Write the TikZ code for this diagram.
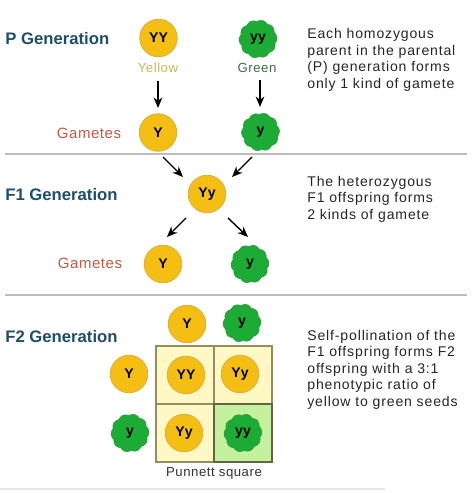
\documentclass[tikz,border=0pt]{standalone}
\usetikzlibrary{arrows.meta}
\usepackage{fontspec}
\setmainfont{Liberation Sans}
\definecolor{gencolor}{HTML}{1F4E6B}
\definecolor{gametecolor}{HTML}{C4593F}
\definecolor{seedyellow}{HTML}{F5BE12}
\definecolor{seedyellowline}{HTML}{DDAF3A}
\definecolor{seedgreen}{HTML}{1CAB35}
\definecolor{seedgreenline}{HTML}{2A9A3A}
\definecolor{cellyellow}{HTML}{FFF8C4}
\definecolor{cellgreen}{HTML}{C4F0A0}
\definecolor{cellline}{HTML}{8F8F60}
\definecolor{ruleline}{HTML}{BDBDBD}
\definecolor{yellowlabel}{HTML}{C9B45C}
\definecolor{greenlabel}{HTML}{3F6B4A}
\tikzset{
  yellowseed/.style={circle, minimum size=0.75cm, inner sep=0pt, fill=seedyellow, draw=seedyellowline, line width=0.5pt, font=\bfseries\fontsize{8}{8}\selectfont},
  greenseed/.style={inner sep=0pt, font=\bfseries\fontsize{8}{8}\selectfont},
  genlabel/.style={font=\bfseries\fontsize{9.5}{9.5}\selectfont, text=gencolor, anchor=west, inner sep=0pt},
  gamlabel/.style={font=\fontsize{8.5}{8.5}\addfontfeature{LetterSpace=4}\selectfont, text=gametecolor, inner sep=0pt},
  colourlabel/.style={font=\fontsize{7.5}{7.5}\addfontfeature{LetterSpace=4}\selectfont, inner sep=0pt},
  notetext/.style={font=\fontsize{8}{9.47}\addfontfeature{LetterSpace=6}\selectfont, align=left, anchor=north west, inner sep=0pt, text=black!85},
  arrowline/.style={-{Stealth[length=6pt,width=5pt]}, line width=0.8pt, black},
  genrule/.style={ruleline, line width=0.8pt}
}
% scalloped green seed: position, name, letters
\newcommand{\greenblob}[3]{%
  \filldraw[shift={#1}, fill=seedgreen, draw=seedgreenline, line width=0.3pt]
    plot[domain=0:360, samples=145] (\x:{17.4*(1+0.09*abs(cos(5*\x+18)))}) -- cycle;
  \node[greenseed] (#2) at #1 {#3};
}
\begin{document}
\begin{tikzpicture}[x=0.02cm, y=-0.02cm, >=Stealth]
  \useasboundingbox (0,0) rectangle (474,493);

  % Rules between generations
  \coordinate (ruleAl) at (5,154);
  \coordinate (ruleAr) at (467,154);
  \coordinate (ruleBl) at (5,295);
  \coordinate (ruleBr) at (467,295);
  \coordinate (ruleCl) at (0,489);
  \coordinate (ruleCr) at (385,489);
  \draw[genrule] (ruleAl) -- (ruleAr);
  \draw[genrule] (ruleBl) -- (ruleBr);
  \draw[black!10, line width=0.8pt] (ruleCl) -- (ruleCr);

  % Titles
  \node[genlabel] (pgen) at (5,38.5) {P Generation};
  \node[genlabel] (fone) at (5,195) {F1 Generation};
  \node[genlabel] (ftwo) at (5,337) {F2 Generation};

  % P generation
  \node[yellowseed] (pY) at (158.5,38) {YY};
  \greenblob{(258,39)}{py}{yy}
  \node[colourlabel, text=yellowlabel] (yellowtxt) at (158,68) {Yellow};
  \node[colourlabel, text=greenlabel] (greentxt) at (257,68) {Green};
  \node[gamlabel] (gamA) at (89,133) {Gametes};
  \node[yellowseed] (gamAY) at (158,132.5) {Y};
  \greenblob{(260.5,132)}{gamAy}{y}
  \draw[arrowline] ([shift={(0,13)}]yellowtxt.center) -- ([shift={(0,-24.5)}]gamAY.center);
  \draw[arrowline] ([shift={(3,12)}]greentxt.center) -- ([shift={(-0.5,-25)}]gamAy.center);

  % F1 generation
  \node[yellowseed] (fYy) at (207,194) {Yy};
  \node[gamlabel] (gamB) at (90,263) {Gametes};
  \node[yellowseed] (gamBY) at (163,264) {Y};
  \greenblob{(250,264)}{gamBy}{y}
  \draw[arrowline] ([shift={(5,24.5)}]gamAY.center) -- ([shift={(-24,-17)}]fYy.center);
  \draw[arrowline] ([shift={(-8.5,25)}]gamAy.center) -- ([shift={(25,-17)}]fYy.center);
  \draw[arrowline] ([shift={(-21,24)}]fYy.center) -- ([shift={(4,-27)}]gamBY.center);
  \draw[arrowline] ([shift={(21,24)}]fYy.center) -- ([shift={(-2,-27)}]gamBy.center);

  % Punnett square
  \fill[cellyellow] (156,346) rectangle (272,462);
  \fill[cellgreen] (214,404) rectangle (272,462);
  \draw[cellline, line width=0.6pt] (156,346) rectangle (272,462);
  \draw[cellline, line width=0.6pt] (214,346) -- (214,462);
  \draw[cellline, line width=0.6pt] (156,404) -- (272,404);
  \draw[cellline!70!black, line width=0.7pt] (214,404) rectangle (272,462);

  % F2 generation
  \node[yellowseed] (topY) at (187,324) {Y};
  \greenblob{(242,323)}{topy}{y}
  \node[yellowseed] (leftY) at (129,374) {Y};
  \greenblob{(130,433)}{lefty}{y}
  \node[yellowseed] (cellYY) at (186,375) {YY};
  \node[yellowseed] (cellYyA) at (240,374) {Yy};
  \node[yellowseed] (cellYyB) at (184,433) {Yy};
  \greenblob{(243,433)}{cellyy}{yy}
  \node[colourlabel, text=black!80] (punnett) at (214,473) {Punnett square};

  % Notes
  \node[notetext] (notep) at (307,28) {Each homozygous\\parent in the parental\\(P) generation forms\\only 1 kind of gamete};
  \node[notetext] (notef) at (307,175.5) {The heterozygous\\F1 offspring forms\\2 kinds of gamete};
  \node[notetext] (notes) at (307,329.5) {Self-pollination of the\\F1 offspring forms F2\\offspring with a 3:1\\phenotypic ratio of\\yellow to green seeds};
\end{tikzpicture}
\end{document}
